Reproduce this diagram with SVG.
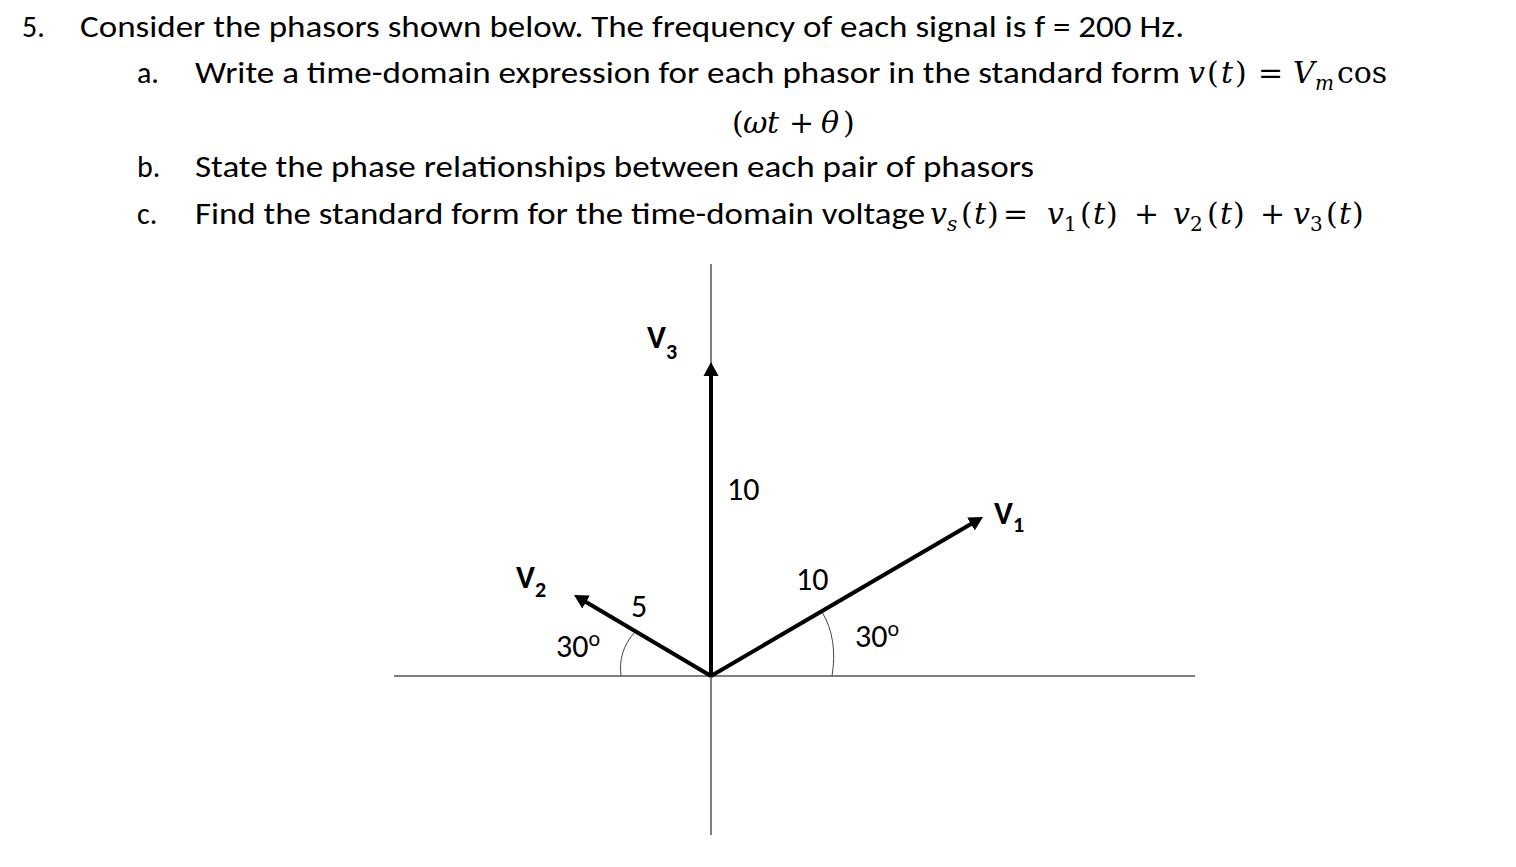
<svg xmlns="http://www.w3.org/2000/svg" width="1516" height="867" viewBox="0 0 1516 867">
  <style>
    .t { font-family: Carlito, Lato, "Open Sans", sans-serif; font-size: 30px; fill: #000; }
    .m { font-family: "DejaVu Serif", "Liberation Serif", serif; font-size: 30px; fill: #000; }
    .mi { font-style: italic; }
    .sub { font-size: 20px; }
    .lbl { font-family: Carlito, Lato, "Open Sans", sans-serif; font-size: 32px; fill: #000; }
    .vb { font-family: Carlito, Lato, "Open Sans", sans-serif; font-size: 32px; font-weight: bold; fill: #000; }
    .vs { font-size: 22px; }
    .axis { stroke: #555; stroke-width: 1.5; fill: none; }
    .arc { stroke: #444; stroke-width: 1; fill: none; }
    .phasor { stroke: #000; stroke-width: 4; fill: none; marker-end: url(#ah); }
  </style>
  <defs>
    <marker id="ah" markerUnits="userSpaceOnUse" markerWidth="16" markerHeight="18" refX="6" refY="8" orient="auto">
      <path d="M0,0.5 L14,8 L0,15.5 z" fill="#000"/>
    </marker>
  </defs>
  <rect width="1516" height="867" fill="#fff"/>

  <g id="question">
    <text class="t" x="22" y="37">5.</text>
    <text class="t" x="80" y="37" textLength="1104" lengthAdjust="spacingAndGlyphs">Consider the phasors shown below. The frequency of each signal is f = 200 Hz.</text>
    <text class="t" x="137" y="83">a.</text>
    <text class="t" x="195" y="83" textLength="985" lengthAdjust="spacingAndGlyphs">Write a time-domain expression for each phasor in the standard form</text>
    <text class="m" y="83"><tspan class="mi" x="1188">v</tspan><tspan x="1207">(</tspan><tspan class="mi" x="1221">t</tspan><tspan x="1235">)</tspan><tspan x="1258">=</tspan><tspan class="mi" x="1293">V</tspan><tspan class="sub mi" x="1315" y="90">m</tspan><tspan x="1337" y="83">cos</tspan></text>
    <text class="m" y="133"><tspan x="732">(</tspan><tspan class="mi" x="743">ω</tspan><tspan class="mi" x="767">t</tspan><tspan x="789">+</tspan><tspan class="mi" x="821">θ</tspan><tspan x="843">)</tspan></text>
    <text class="t" x="137" y="177">b.</text>
    <text class="t" x="195" y="177" textLength="839" lengthAdjust="spacingAndGlyphs">State the phase relationships between each pair of phasors</text>
    <text class="t" x="137" y="224">c.</text>
    <text class="t" x="195" y="224" textLength="730" lengthAdjust="spacingAndGlyphs">Find the standard form for the time-domain voltage</text>
    <text class="m" y="224"><tspan class="mi" x="930">v</tspan><tspan class="sub mi" x="947" y="231">s</tspan><tspan x="961" y="224">(</tspan><tspan class="mi" x="974">t</tspan><tspan x="987">)</tspan><tspan x="1003">=</tspan><tspan class="mi" x="1047">v</tspan><tspan class="sub" x="1064" y="231">1</tspan><tspan x="1080" y="224">(</tspan><tspan class="mi" x="1093">t</tspan><tspan x="1106">)</tspan><tspan x="1134">+</tspan><tspan class="mi" x="1173">v</tspan><tspan class="sub" x="1190" y="231">2</tspan><tspan x="1207" y="224">(</tspan><tspan class="mi" x="1220">t</tspan><tspan x="1233">)</tspan><tspan x="1260">+</tspan><tspan class="mi" x="1293">v</tspan><tspan class="sub" x="1310" y="231">3</tspan><tspan x="1326" y="224">(</tspan><tspan class="mi" x="1339">t</tspan><tspan x="1352">)</tspan></text>
  </g>

  <g id="axes">
    <line class="axis" x1="394" y1="676" x2="1195" y2="676"/>
    <line class="axis" x1="711" y1="264" x2="711" y2="835"/>
  </g>

  <g id="angle-arcs">
    <path class="arc" d="M832,676 C836,652 833,630 822,612"/>
    <path class="arc" d="M621,676 C619,660 623,645 635,632"/>
    <text class="lbl" x="855" y="647">30<tspan font-size="22" dy="-11">o</tspan></text>
    <text class="lbl" x="556" y="657">30<tspan font-size="22" dy="-11">o</tspan></text>
  </g>

  <g id="connectors">
    <line class="phasor" x1="711" y1="676" x2="711" y2="370"/>
    <line class="phasor" x1="711" y1="676" x2="976.1" y2="521"/>
    <line class="phasor" x1="711" y1="676" x2="580.9" y2="599"/>
  </g>

  <g id="node-V3">
    <text class="vb" x="647" y="348">V<tspan class="vs" dy="11">3</tspan></text>
    <text class="lbl" x="727" y="500">10</text>
  </g>
  <g id="node-V1">
    <text class="vb" x="994" y="524">V<tspan class="vs" dy="8">1</tspan></text>
    <text class="lbl" x="796" y="590">10</text>
  </g>
  <g id="node-V2">
    <text class="vb" x="516" y="588">V<tspan class="vs" dy="9">2</tspan></text>
    <text class="lbl" x="631" y="617">5</text>
  </g>
</svg>
